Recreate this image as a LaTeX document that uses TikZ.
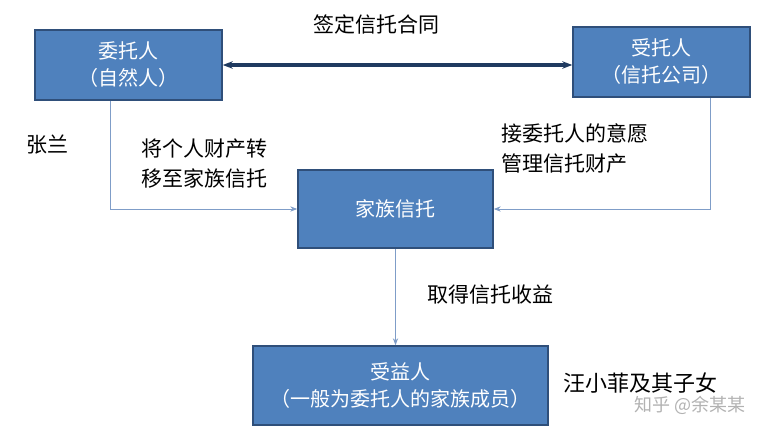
\documentclass[tikz,border=0pt]{standalone}
\usepackage{fontspec}
\setmainfont{Noto Sans CJK SC}
\usetikzlibrary{positioning, arrows.meta}
\definecolor{boxblue}{HTML}{4F81BD}
\definecolor{boxedge}{HTML}{2F4F7A}
\definecolor{bondblue}{HTML}{1F3A60}
\definecolor{linkblue}{HTML}{7F9DC8}
\tikzset{
  party/.style={draw=boxedge, line width=1.5pt, fill=boxblue, text=white, align=center, font=\fontsize{20}{27}\selectfont},
  flow/.style={draw=linkblue, line width=0.9pt, -{Stealth[length=7pt]}},
  note/.style={align=left, font=\fontsize{21}{30}\selectfont}
}
\begin{document}
\begin{tikzpicture}[x=1pt, y=-1pt]
            \useasboundingbox (0,0) rectangle (781,434);
            \node[party, minimum width=187pt, minimum height=70pt] (settlor) at (128.5,65) {委托人\\（自然人）};
            \node[party, minimum width=177pt, minimum height=70pt] (trustee) at (661.5,62) {受托人\\（信托公司）};
            \node[party, minimum width=195pt, minimum height=78pt] (trust) at (395.5,209) {家族信托};
            \node[party, minimum width=295pt, minimum height=79pt] (benef) at (400.5,385.5) {受益人\\（一般为委托人的家族成员）};
            \draw[{Stealth[length=10pt]}-{Stealth[length=10pt]}, draw=bondblue, line width=4pt]
              (settlor.east) -- (settlor.east -| trustee.west);
            \node[note] (contract) at (376,24) {签定信托合同};
            \draw[flow] (settlor.south -| 110,0) |- (trust.west);
            \draw[flow] (trustee.south -| 710,0) |- (trust.east);
            \draw[flow] (trust.south) -- (benef.north -| trust.south);
            \node[note] (transfer) at (204,164) {将个人财产转\\移至家族信托};
            \node[note] (manage) at (575,148) {接委托人的意愿\\管理信托财产};
            \node[note] (income) at (490,295) {取得信托收益};
            \node[note] (zhang) at (48,145) {张兰};
            \node[note, font=\fontsize{22}{24}\selectfont] (wang) at (640,383) {汪小菲及其子女};
            \node[text=gray!60, font=\fontsize{18}{20}\selectfont] (mark) at (690,405) {知乎 @余某某};
\end{tikzpicture}
\end{document}
